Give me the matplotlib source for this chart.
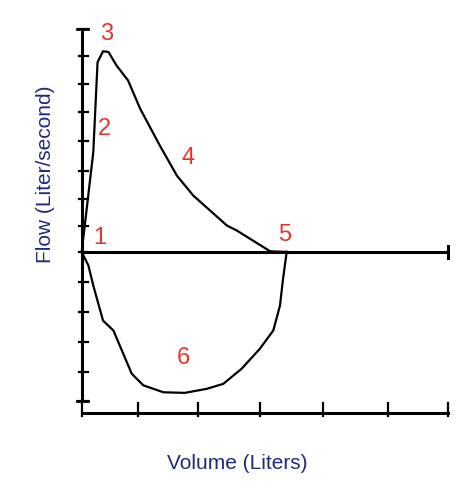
import matplotlib
matplotlib.use("Agg")
import matplotlib.pyplot as plt
import numpy as np

plt.rcParams['font.family'] = ['Liberation Sans', 'DejaVu Sans']

# Flow-volume loop (volume in tick units, flow in tick units)
exp_vol = [0, 0.19, 0.26, 0.35, 0.44, 0.57, 0.76, 0.96, 1.28, 1.56, 1.83, 2.38, 2.54, 3.09, 3.36]
exp_flow = [0, 3.44, 6.54, 6.92, 6.89, 6.43, 5.91, 4.93, 3.67, 2.63, 1.94, 0.91, 0.74, 0.02, 0]
insp_vol = [3.36, 3.30, 3.25, 3.14, 2.92, 2.62, 2.32, 2.05, 1.69, 1.34, 1.01, 0.82, 0.52, 0.35, 0.19, 0.11, 0]
insp_flow = [0, -0.93, -1.85, -2.71, -3.34, -4.03, -4.55, -4.72, -4.86, -4.84, -4.6, -4.2, -2.71, -2.37, -1.16, -0.47, 0]
labels = ["1", "2", "3", "4", "5", "6"]
label_x = [0.30, 0.38, 0.41, 1.74, 3.32, 1.66]
label_y = [0.52, 4.28, 7.55, 3.28, 0.62, -3.62]
x_ticks = [0, 0.93, 1.9, 2.92, 3.96, 5.02, 6.0]
y_ticks = [7.69, 6.77, 5.79, 4.81, 3.84, 2.80, 1.83, 0.91, 0, -1.05, -2.08, -3.11, -4.15, -5.13]

fig = plt.figure(figsize=(4.74, 4.89), dpi=100)
ax = fig.add_axes([0, 0, 1, 1])
ax.set_xlim(-1.339, 6.43)
ax.set_ylim(-8.14, 8.72)
ax.axis("off")

k = "black"
# y axis
ax.plot([0, 0], [-5.13, 7.69], color=k, lw=2.2, solid_capstyle="butt")
for t in y_ticks:
    ax.plot([-0.04, 0.1], [t, t], color=k, lw=1.6)
ax.plot([-0.08, 0.1], [7.69, 7.69], color=k, lw=2)
ax.plot([-0.08, 0.1], [-5.13, -5.13], color=k, lw=2)
# x axis
xa = -5.55
ax.plot([0, 6.0], [xa, xa], color=k, lw=2.2)
for t in x_ticks:
    ax.plot([t, t], [xa - 0.1, xa + 0.35], color=k, lw=1.6)
# zero line
ax.plot([0, 6.0], [0, 0], color=k, lw=2.2)
ax.plot([6.0, 6.0], [-0.2, 0.2], color=k, lw=2.2)

ax.plot(exp_vol, exp_flow, color=k, lw=1.6)
ax.plot(insp_vol, insp_flow, color=k, lw=1.6)

for s, x, y in zip(labels, label_x, label_y):
    ax.text(x, y, s, color="#e8352b", fontsize=17, ha="center", va="center")

navy = "#1f2a78"
ax.text(-0.6, 2.7, "Flow (Liter/second)", rotation=90, color=navy, fontsize=15,
        ha="center", va="center")
ax.text(2.55, -7.25, "Volume (Liters)", color=navy, fontsize=15, ha="center", va="center")

fig.savefig("out.png", dpi=100)
